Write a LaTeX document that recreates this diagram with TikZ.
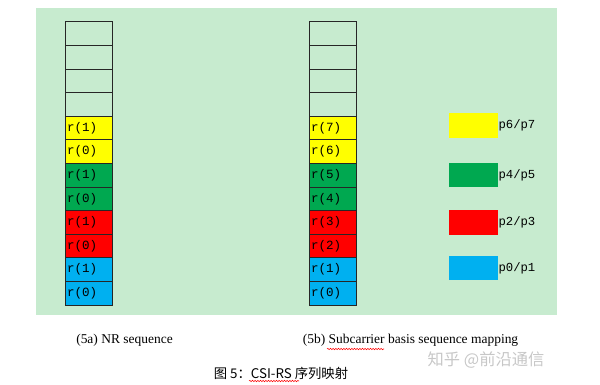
\documentclass[tikz,border=0pt]{standalone}
\usepackage{fontspec}
\setmainfont{Liberation Serif}
\setmonofont{Liberation Mono}
\newfontfamily\cjk{Noto Sans CJK SC}
\usetikzlibrary{calc,decorations.pathmorphing}
\definecolor{panelgreen}{RGB}{199,235,207}
\definecolor{cyellow}{RGB}{255,255,0}
\definecolor{cgreen}{RGB}{0,168,80}
\definecolor{cred}{RGB}{255,0,0}
\definecolor{cblue}{RGB}{0,176,240}
\tikzset{
  cell/.style={draw=black!85, line width=0.6pt, minimum width=35.25pt, minimum height=17.7pt,
    text width=32pt, inner xsep=1.5pt, inner ysep=0pt, align=left, font=\ttfamily\fontsize{9.4}{10}\selectfont},
  key/.style={minimum width=36.75pt, minimum height=18.5pt, inner sep=0pt},
  keytext/.style={anchor=west, inner sep=0pt, font=\ttfamily\fontsize{9.2}{10}\selectfont},
  caption/.style={inner sep=0pt, font=\fontsize{10.1}{12}\selectfont},
  squiggle/.style={red, line width=0.4pt, decorate, decoration={snake, segment length=2pt, amplitude=0.5pt}}
}
\begin{document}
\begin{tikzpicture}[x=0.75pt,y=-0.75pt]
\useasboundingbox (0,0) rectangle (600,385);
\fill[panelgreen] (36,8) rectangle (557,315);
% filled cells, bottom up
\foreach \k/\c in {0/cblue,1/cblue,2/cred,3/cred,4/cgreen,5/cgreen,6/cyellow,7/cyellow} {
  \pgfmathtruncatemacro\m{mod(\k,2)}
  \node[cell, fill=\c] (a\k) at (88.5,293.2-23.6*\k) {r(\m)};
  \node[cell, fill=\c] (b\k) at (332.5,293.2-23.6*\k) {r(\k)};
}
% empty cells on top
\foreach \k in {8,...,11} {
  \node[cell] (a\k) at (88.5,293.2-23.6*\k) {};
  \node[cell] (b\k) at (332.5,293.2-23.6*\k) {};
}
% legend
\node[key, fill=cyellow] (k67) at (473.5,125.5) {};
\node[keytext] (t67) at (k67.east) {p6/p7};
\node[key, fill=cgreen] (k45) at (473.5,175) {};
\node[keytext] (t45) at (k45.east) {p4/p5};
\node[key, fill=cred] (k23) at (473.5,222.5) {};
\node[keytext] (t23) at (k23.east) {p2/p3};
\node[key, fill=cblue] (k01) at (473.5,268) {};
\node[keytext] (t01) at (k01.east) {p0/p1};
% captions
\node[caption] (capa) at (124.5,340) {(5a) NR sequence};
\node[caption] (capb) at (410.5,340) {(5b) Subcarrier basis sequence mapping};
\node[inner sep=0pt, font=\cjk\fontsize{10}{12}\selectfont] (title) at (281,373) {图 5：CSI-RS 序列映射};
\node[inner sep=0pt, text=black!22, font=\cjk\fontsize{12.2}{14}\selectfont] (mark) at (486,360) {知乎 @前沿通信};
\draw[squiggle] (327,349) -- (384,349);
\draw[squiggle] (249,381) -- (299,381);
\end{tikzpicture}
\end{document}
